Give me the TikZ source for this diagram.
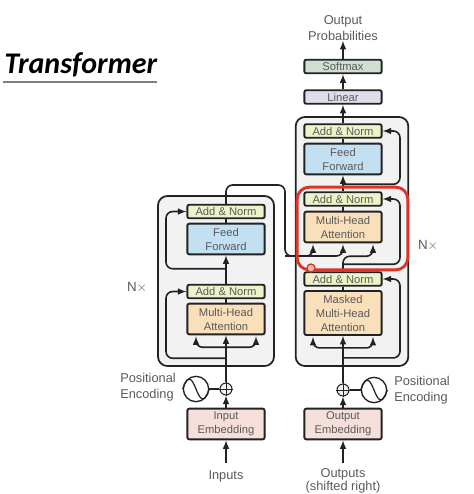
\documentclass[tikz,border=0pt]{standalone}
\usepackage{fontspec}
\setmainfont{Liberation Sans}
\newfontfamily\titlefont{Carlito}
\usetikzlibrary{calc}
\definecolor{inkgray}{HTML}{5A5A5A}
\definecolor{framedark}{HTML}{222222}
\definecolor{addfill}{HTML}{EEF2C8}
\definecolor{feedfill}{HTML}{C2E0F2}
\definecolor{attnfill}{HTML}{FADFBB}
\definecolor{embedfill}{HTML}{F6DEDB}
\definecolor{softfill}{HTML}{CFDFD2}
\definecolor{linearfill}{HTML}{DCDEEC}
\definecolor{markred}{HTML}{D9352B}
\tikzset{
  cell/.style={
    rectangle,
    rounded corners=1.5pt,
    draw=framedark,
    line width=1.4pt,
    text=inkgray,
    align=center,
    font=\fontsize{8.4}{10.5}\selectfont,
    minimum width=58pt,
    inner sep=0pt,
  },
  addnorm/.style={cell, fill=addfill, minimum height=10.2pt},
  feedforward/.style={cell, fill=feedfill, minimum height=23pt},
  attention/.style={cell, fill=attnfill, minimum height=23pt},
  embedding/.style={cell, fill=embedfill, minimum height=23pt},
  block/.style={
    rectangle,
    rounded corners=7pt,
    draw=framedark,
    line width=1.3pt,
    fill=black!5,
  },
  plainlabel/.style={
    text=inkgray,
    align=left,
    font=\fontsize{9.6}{12}\selectfont,
    inner sep=0pt,
  },
  wire/.style={
    draw=framedark,
    line width=1.2pt,
    rounded corners=5pt,
    >=latex,
  },
  plus/.style={
    circle,
    draw=framedark,
    fill=black!5,
    line width=.8pt,
    minimum size=9pt,
    inner sep=0pt,
  },
  wave/.style={
    circle,
    draw=framedark,
    line width=1pt,
    minimum size=19pt,
    inner sep=0pt,
  },
}

\begin{document}
\begin{tikzpicture}[x=.75pt, y=-.75pt]
  \useasboundingbox (0, 0) rectangle (474, 494);

  \node[block, minimum width=87pt, minimum height=127.5pt] (encBox) at (216, 281) {};
  \node[block, minimum width=84.5pt, minimum height=186.8pt] (decBox) at (352, 241.5) {};

  \node[addnorm] (encAddTop) at (226, 211.5) {Add \& Norm};
  \node[feedforward] (encFeed) at (226, 239) {Feed\\Forward};
  \node[addnorm] (encAddLow) at (226, 291.5) {Add \& Norm};
  \node[attention] (encMha) at (226, 319) {Multi-Head\\Attention};
  \node[embedding] (encEmbed) at (226, 424) {Input\\Embedding};

  \node[cell, fill=softfill, minimum height=10.2pt] (softmax) at (343, 66.5) {Softmax};
  \node[cell, fill=linearfill, minimum height=10.2pt] (linear) at (343, 97) {Linear};
  \node[addnorm] (decAddTop) at (343, 131) {Add \& Norm};
  \node[feedforward] (decFeed) at (343, 159) {Feed\\Forward};
  \node[addnorm] (decAddMid) at (343, 199) {Add \& Norm};
  \node[attention] (decMha) at (343, 227) {Multi-Head\\Attention};
  \node[addnorm] (decAddLow) at (343, 279) {Add \& Norm};
  \node[attention, minimum height=33pt] (decMask) at (343, 313) {Masked\\Multi-Head\\Attention};
  \node[embedding] (decEmbed) at (343, 424) {Output\\Embedding};

  \node[plus] (encPlus) at (226, 389) {};
  \node[plus] (decPlus) at (343, 390) {};
  \node[wave] (encWave) at (196, 389) {};
  \node[wave] (decWave) at (374, 390) {};

  \node[plainlabel, align=center] (outProb) at (343, 28) {Output\\Probabilities};
  \node[plainlabel, anchor=west] (encPos) at (120, 387.5) {Positional\\Encoding};
  \node[plainlabel, anchor=west] (decPos) at (394, 390) {Positional\\Encoding};
  \node[plainlabel] (inputs) at (226, 476) {Inputs};
  \node[plainlabel, align=center, font=\fontsize{9.6}{10}\selectfont] (outputs) at (343, 481) {Outputs\\(shifted right)};
  \node[plainlabel, font=\fontsize{10}{12}\selectfont] (encTimes) at (137, 287) {N$\times$};
  \node[plainlabel, font=\fontsize{10}{12}\selectfont] (decTimes) at (428, 245) {N$\times$};
  \node[inner sep=0pt, anchor=west, font=\titlefont\bfseries\itshape\fontsize{22.5}{26}\selectfont] (title) at (4, 65) {Transformer};
  \draw[gray, line width=.9pt] (3, 82) -- (157, 82);

  \foreach \attn in {encMha, decMask}
    \draw[wire, <->] ($(\attn.south)+(-30,1)$) -- ($(\attn.south)+(-30,12)$) -- ($(\attn.south)+(30,12)$) -- ($(\attn.south)+(30,1)$);

  \foreach \wavename in {encWave, decWave}
    \draw[framedark, line width=.9pt] (\wavename.west) .. controls ($(\wavename.center)+(-7,-18)$) and ($(\wavename.center)+(-3,-7)$) .. (\wavename.center) .. controls ($(\wavename.center)+(3,7)$) and ($(\wavename.center)+(7,18)$) .. (\wavename.east);

  \foreach \plusname in {encPlus, decPlus} {
    \draw[framedark, line width=.7pt] (\plusname.north) -- (\plusname.south);
    \draw[framedark, line width=.7pt] (\plusname.west) -- (\plusname.east);
  }

  \draw[wire] (encWave) -- (encPlus);
  \draw[wire] (decWave) -- (decPlus);

  \draw[wire, ->] (inputs.north |- 0, 463) -- (encEmbed.south);
  \draw[wire, ->] (encEmbed.north) -- (encPlus.south);
  \draw[wire, ->] (encPlus.north) -- (encMha.south);
  \draw[wire] (encMha.north) -- (encAddLow.south);
  \draw[wire, ->] (encAddLow.north) -- (encFeed.south);
  \draw[wire] (encFeed.north) -- (encAddTop.south);

  \draw[wire, ->] (outputs.north |- 0, 463) -- (decEmbed.south);
  \draw[wire, ->] (decEmbed.north) -- (decPlus.south);
  \draw[wire, ->] (decPlus.north) -- (decMask.south);
  \draw[wire] (decMask.north) -- (decAddLow.south);
  \draw[wire] (decMha.north) -- (decAddMid.south);
  \draw[wire, ->] (decAddMid.north) -- (decFeed.south);
  \draw[wire] (decFeed.north) -- (decAddTop.south);
  \draw[wire, ->] (decAddTop.north) -- (linear.south);
  \draw[wire, ->] (linear.north) -- (softmax.south);
  \draw[wire, ->] (softmax.north) -- (outProb.south);

  \draw[wire, ->] ($(encAddLow.north)+(0,-15)$) -- ++(-60, 0) |- (encAddTop.west);
  \draw[wire, ->] ($(encMha.south)+(0,23)$) -- ++(-60, 0) |- (encAddLow.west);
  \draw[wire, ->] ($(decMask.south)+(0,22)$) -- ++(57, 0) |- (decAddLow.east);
  \draw[wire, ->] ($(decAddLow.north)+(0,-7)$) -- ++(57, 0) |- (decAddMid.east);
  \draw[wire, ->] ($(decAddMid.north)+(0,-7)$) -- ++(57, 0) |- (decAddTop.east);

  \coordinate (crossTop) at (285, 185);
  \coordinate (crossLow) at (285, 256);
  \draw[wire, ->] (encAddTop.north) |- (crossTop) -- (crossLow) -| ($(decMha.south)+(0,1)$);
  \draw[wire, ->] (crossLow) -| ($(decMha.south)+(-30,1)$);
  \draw[wire, ->] (decAddLow.north) |- ($(decMha.south)+(30,13)$) -- ($(decMha.south)+(30,1)$);

  \node[rectangle, rounded corners=9pt, draw=markred, line width=2.2pt, minimum width=83pt, minimum height=62pt] (focus) at (352.5, 228.5) {};
  \node[circle, draw=markred, fill=markred!35, line width=1pt, minimum size=6pt, inner sep=0pt] (cursor) at (311, 268) {};
\end{tikzpicture}
\end{document}
